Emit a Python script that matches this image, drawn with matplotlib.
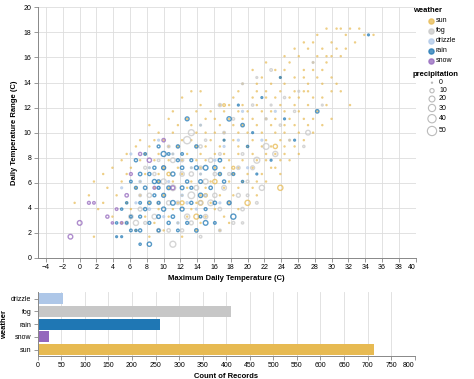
import matplotlib
matplotlib.use("Agg")
import matplotlib.pyplot as plt

plt.rcParams["font.family"] = ["Liberation Sans", "DejaVu Sans"]

# weather categories and colours
weather = ["sun", "fog", "drizzle", "rain", "snow"]
colors = {"sun": "#e7ba52", "fog": "#c7c7c7", "drizzle": "#aec7e8",
          "rain": "#1f77b4", "snow": "#9467bd"}

# dry sunny days: temperature range -> list of max temperatures (precipitation 0)
sun_dry_rows = {
    18.3: [29.4, 30.6, 31.1, 32.2, 33.3],
    17.8: [28.3, 31.7, 33.9, 35.0],
    17.2: [26.7, 27.8, 30.0, 32.8],
    16.7: [25.6, 27.2, 28.9, 30.6, 31.7],
    16.1: [24.4, 26.1, 28.3, 29.4, 30.0, 31.1],
    15.6: [22.2, 25.0, 27.8, 29.4],
    15.0: [20.6, 23.3, 24.4, 26.7, 27.8, 28.9],
    14.4: [21.7, 23.9, 25.6, 26.7, 28.3, 30.0],
    13.9: [19.4, 21.1, 22.8, 24.4, 27.2, 28.9, 30.6],
    13.3: [13.3, 14.4, 18.9, 21.1, 22.2, 23.9, 25.6, 26.7, 27.2, 30.0, 31.1],
    12.8: [12.2, 18.3, 20.6, 22.2, 23.3, 25.0, 26.1, 27.8, 28.9],
    12.2: [14.4, 16.7, 17.8, 19.4, 21.1, 23.9, 25.6, 27.2, 29.4, 32.2],
    11.7: [11.1, 13.9, 15.6, 17.2, 18.9, 20.0, 21.7, 22.8, 24.4, 26.1, 28.3],
    11.1: [10.6, 12.8, 15.0, 16.1, 17.8, 19.4, 20.6, 22.2, 23.3, 25.0, 26.7, 27.8, 30.0],
    10.6: [8.3, 11.7, 13.3, 14.4, 16.7, 18.3, 19.4, 21.1, 22.8, 24.4, 25.6, 27.2, 28.9],
    10.0: [9.4, 11.1, 13.9, 15.0, 16.1, 17.2, 18.9, 20.0, 21.7, 23.3, 24.4, 26.1, 27.8],
    9.4: [7.2, 8.9, 10.0, 12.2, 13.3, 15.6, 17.2, 18.3, 20.6, 22.2, 23.9, 25.0, 26.7],
    8.9: [6.7, 8.3, 10.6, 11.7, 13.9, 15.0, 16.7, 18.9, 20.0, 21.7, 22.8, 24.4, 25.6],
    8.3: [5.6, 7.8, 9.4, 11.1, 12.8, 14.4, 16.1, 17.2, 18.9, 20.6, 22.2, 23.3, 24.4, 26.1],
    7.8: [5.0, 7.2, 8.9, 10.6, 12.2, 13.9, 15.0, 17.8, 19.4, 21.1, 22.2, 23.9, 25.0],
    7.2: [3.9, 6.1, 8.3, 10.0, 11.7, 13.3, 14.4, 16.1, 17.2, 18.9, 20.6, 22.8, 23.3],
    6.7: [2.8, 5.6, 7.8, 9.4, 12.2, 14.4, 16.7, 18.3, 20.0, 21.7, 23.9],
    6.1: [1.7, 5.0, 7.2, 9.4, 11.1, 13.3, 15.6, 17.8, 19.4, 21.1, 22.2],
    5.6: [3.3, 6.7, 8.9, 10.6, 12.8, 15.0, 17.2, 18.9, 20.6],
    5.0: [1.1, 4.4, 7.2, 10.0, 12.2, 14.4, 16.7, 18.3, 21.1],
    4.4: [-0.6, 2.8, 5.6, 8.3, 11.7, 13.9, 15.6, 17.8],
    3.9: [2.2, 6.1, 9.4, 11.1, 13.3, 16.1, 18.9],
    3.3: [3.9, 7.8, 10.6, 12.8, 15.0, 17.2],
    2.8: [5.0, 8.9, 11.7, 14.4, 17.8],
    2.2: [6.7, 10.0, 13.9, 16.7],
    1.7: [1.7, 8.3, 12.2],
}

# (max temperature, temperature range, precipitation)
sun_wet = [(23.9, 5.6, 15), (20.0, 4.4, 15), (23.3, 8.9, 10), (13.9, 3.3, 14),
           (12.2, 4.4, 8), (10.6, 6.7, 6), (16.1, 6.1, 10), (15.0, 5.0, 6),
           (18.3, 7.2, 4), (17.2, 12.2, 3), (14.4, 4.4, 12)]

fog = [(11.1, 1.1, 20), (13.3, 5.0, 25), (12.8, 9.4, 30), (13.3, 10.0, 20), (22.2, 8.9, 20),
       (21.1, 7.8, 20), (27.2, 10.0, 12), (23.3, 8.3, 15), (21.7, 5.6, 15), (16.7, 12.2, 5),
       (22.8, 15.0, 3), (18.3, 11.1, 3), (7.2, 3.9, 8), (8.3, 5.0, 10), (8.9, 3.3, 12),
       (9.4, 4.4, 6), (10.0, 6.1, 15), (10.6, 4.4, 10), (11.1, 5.6, 18), (11.7, 4.4, 6),
       (12.2, 6.7, 10), (12.8, 3.3, 15), (13.9, 5.6, 12), (14.4, 4.4, 8), (15.0, 6.1, 14),
       (15.6, 4.4, 18), (16.1, 5.0, 10), (16.7, 3.9, 6), (17.2, 5.6, 12), (17.8, 4.4, 5),
       (18.3, 2.8, 4), (19.4, 3.9, 6), (20.0, 5.0, 3), (6.1, 3.3, 10), (5.6, 2.8, 6),
       (6.7, 2.8, 15), (7.8, 2.8, 4), (9.4, 2.2, 8), (10.6, 2.2, 6), (12.2, 2.2, 5),
       (13.3, 2.8, 8), (14.4, 1.7, 3), (10.0, 7.2, 8), (11.1, 7.8, 12), (12.2, 7.8, 5),
       (13.3, 6.7, 10), (14.4, 7.2, 6), (15.6, 7.8, 10), (16.1, 6.7, 6), (17.8, 6.7, 4),
       (18.9, 7.2, 6), (19.4, 8.3, 3), (20.6, 7.2, 8), (8.9, 6.7, 5), (7.8, 7.2, 4),
       (9.4, 7.8, 3), (14.4, 8.9, 5), (15.0, 9.4, 2), (16.7, 8.3, 3), (17.2, 10.0, 3),
       (10.6, 8.9, 3), (7.2, 5.0, 3), (18.9, 5.0, 8), (20.0, 6.1, 4), (21.1, 4.4, 3),
       (19.4, 2.8, 2), (15.0, 3.3, 10), (16.7, 2.2, 3), (22.2, 11.1, 2), (24.4, 12.8, 2),
       (25.6, 11.7, 2), (26.1, 13.3, 1), (20.6, 12.2, 2), (23.9, 10.6, 2), (22.8, 12.2, 1),
       (25.0, 9.4, 1), (26.7, 8.9, 2), (19.4, 13.9, 1), (21.1, 14.4, 1), (27.8, 15.6, 1),
       (28.9, 12.2, 1)]

drizzle = [(7.2, 6.1, 2), (8.3, 7.2, 1), (9.4, 5.6, 3), (10.6, 6.1, 1), (11.1, 8.3, 1),
           (12.2, 5.0, 2), (13.3, 7.2, 1), (14.4, 6.7, 1), (15.0, 5.0, 2), (16.1, 7.8, 1),
           (17.2, 8.9, 1), (18.9, 9.4, 1), (9.4, 9.4, 1), (12.8, 4.4, 2), (10.0, 3.3, 1),
           (11.7, 2.8, 2), (13.9, 3.9, 1), (16.7, 4.4, 1), (6.7, 4.4, 1), (8.3, 3.9, 2),
           (20.0, 7.2, 1), (21.7, 9.4, 1), (23.3, 11.7, 1), (19.4, 11.7, 1), (14.4, 10.6, 1),
           (6.1, 8.3, 1), (5.0, 5.6, 1)]

rain = [(12.8, 11.1, 8), (17.8, 11.1, 10), (13.9, 8.9, 5), (19.4, 10.6, 6), (28.3, 11.7, 6),
        (15.0, 7.2, 12), (16.1, 7.2, 10), (16.7, 7.8, 6), (18.3, 3.3, 15), (15.0, 2.8, 12),
        (17.8, 4.4, 8), (17.2, 6.1, 5), (16.7, 6.7, 5), (18.3, 6.7, 4), (10.0, 8.3, 14),
        (8.3, 1.1, 10), (7.2, 1.1, 2), (13.9, 2.2, 6), (6.7, 2.2, 2), (7.2, 2.2, 5),
        (9.4, 2.2, 4), (7.2, 6.7, 6), (8.3, 6.7, 5), (9.4, 6.1, 6), (10.0, 7.2, 8),
        (10.6, 5.6, 7), (11.1, 6.7, 9), (12.2, 7.2, 6), (12.8, 6.1, 5), (13.9, 7.2, 8),
        (14.4, 5.0, 10), (15.6, 5.6, 6), (16.1, 4.4, 6), (13.3, 4.4, 5), (12.2, 3.9, 8),
        (11.1, 3.3, 6), (10.0, 3.9, 9), (9.4, 4.4, 3), (8.9, 5.0, 4), (8.3, 4.4, 6),
        (7.8, 3.9, 5), (7.2, 4.4, 3), (6.7, 5.6, 4), (6.1, 3.3, 3), (5.6, 2.8, 2),
        (6.7, 7.8, 5), (7.8, 8.3, 3), (8.9, 7.2, 5), (9.4, 8.9, 4), (10.6, 8.3, 3),
        (11.7, 8.9, 5), (12.2, 8.3, 3), (13.3, 7.8, 4), (14.4, 6.1, 7), (15.0, 3.9, 4),
        (16.1, 2.8, 3), (12.8, 2.8, 4), (11.7, 2.2, 3), (10.6, 2.8, 5), (9.4, 3.3, 7),
        (8.3, 2.8, 4), (7.8, 5.6, 6), (5.6, 4.4, 2), (6.1, 6.1, 3), (5.0, 3.9, 2),
        (4.4, 2.8, 2), (4.4, 1.7, 1), (5.0, 1.7, 1), (11.1, 4.4, 12), (10.0, 5.0, 8),
        (12.2, 5.6, 7), (13.3, 5.6, 4), (14.4, 3.3, 3), (8.9, 6.1, 9), (9.4, 5.6, 4),
        (11.7, 7.8, 4), (7.2, 3.3, 4), (6.1, 2.2, 3), (18.9, 12.2, 1), (21.7, 12.8, 1),
        (24.4, 11.1, 1), (23.9, 14.4, 1), (34.4, 17.8, 1), (20.6, 10.0, 1), (25.6, 9.4, 1),
        (17.2, 9.4, 1), (22.8, 7.8, 1), (20.0, 8.9, 2), (19.4, 6.1, 2), (21.1, 6.7, 1)]

snow = [(-1.1, 1.7, 12), (0.0, 2.8, 12), (1.1, 4.4, 4), (1.7, 4.4, 3), (3.3, 3.3, 5),
        (4.4, 3.9, 3), (5.6, 5.0, 6), (8.3, 7.8, 10), (7.2, 8.3, 5), (10.0, 9.4, 6),
        (11.1, 5.6, 8), (5.0, 2.8, 3), (8.9, 5.6, 4), (3.9, 2.8, 2), (6.1, 6.7, 4)]

# bar chart: count of records per weather type
bar_labels = ["drizzle", "fog", "rain", "snow", "sun"]
bar_counts = [53, 411, 259, 25, 714]

precip_legend = [0, 10, 20, 30, 40, 50]

grid_c = "#dddddd"
dom_c = "#888888"
txt_c = "#000000"


def size(p):
    return 0.8 + 0.87 * p


def style_axis(ax):
    for s in ["top", "right"]:
        ax.spines[s].set_visible(False)
    for s in ["left", "bottom"]:
        ax.spines[s].set_color(dom_c)
        ax.spines[s].set_linewidth(0.7)
    ax.tick_params(colors=dom_c, labelcolor=txt_c, labelsize=5, length=3, width=0.6, pad=1.5)
    ax.set_axisbelow(True)


W, H = 474, 379
fig = plt.figure(figsize=(W / 100, H / 100), dpi=100)

# scatter
ax = fig.add_axes([37.7 / W, 1 - 258 / H, 377.8 / W, 250.7 / H])
style_axis(ax)
ax.grid(True, color=grid_c, linewidth=0.6)

sx, sy = [], []
for rng, xs in sun_dry_rows.items():
    for x in xs:
        sx.append(x)
        sy.append(rng)
ax.scatter(sx, sy, s=0.9, facecolors="none", edgecolors=colors["sun"], linewidths=0.8, alpha=0.7)

for name, pts in [("sun", sun_wet), ("fog", fog), ("drizzle", drizzle), ("rain", rain), ("snow", snow)]:
    ax.scatter([p[0] for p in pts], [p[1] for p in pts], s=[size(p[2]) for p in pts],
               facecolors="none", edgecolors=colors[name], linewidths=1.0, alpha=0.75)

ax.set_xlim(-5, 40)
ax.set_ylim(0, 20)
ax.set_xticks(range(-4, 41, 2))
ax.set_yticks(range(0, 21, 2))
ax.set_xlabel("Maximum Daily Temperature (C)", fontsize=5.5, fontweight="bold", labelpad=3)
ax.set_ylabel("Daily Temperature Range (C)", fontsize=5.5, fontweight="bold", labelpad=4)
ax.get_xticklabels()[-1].set_ha("right")

# bar chart
bx = fig.add_axes([37.7 / W, 1 - 356 / H, 377 / W, 63.7 / H])
style_axis(bx)
bx.grid(True, axis="x", color=grid_c, linewidth=0.6)
bx.barh(bar_labels, bar_counts, height=0.86, color=[colors[w] for w in bar_labels])
bx.set_ylim(4.5, -0.5)
bx.set_xlim(0, 800)
bx.set_xticks(range(0, 801, 50))
bx.set_xlabel("Count of Records", fontsize=5.5, fontweight="bold", labelpad=3)
bx.set_ylabel("weather", fontsize=5.5, fontweight="bold", labelpad=2)
bx.get_xticklabels()[-1].set_ha("right")

# legends
lg = fig.add_axes([0, 0, 1, 1])
lg.set_xlim(0, W)
lg.set_ylim(H, 0)
lg.axis("off")
lg.text(413, 11, "weather", fontsize=5.5, fontweight="bold", va="center")
for i, w in enumerate(weather):
    y = 20.7 + i * 10
    lg.scatter([431], [y], s=14, color=colors[w], alpha=0.75)
    lg.text(436, y, w, fontsize=5, va="center")
lg.text(413, 74.5, "precipitation", fontsize=5.5, fontweight="bold", va="center")
leg_y = [82.7, 90.7, 99, 108, 118.7, 131]
for p, y in zip(precip_legend, leg_y):
    lg.scatter([432], [y], s=size(p), facecolors="none", edgecolors="#bbbbbb", linewidths=0.8)
    lg.text(439, y, str(p), fontsize=5, va="center")

fig.savefig("out.png", dpi=100)
